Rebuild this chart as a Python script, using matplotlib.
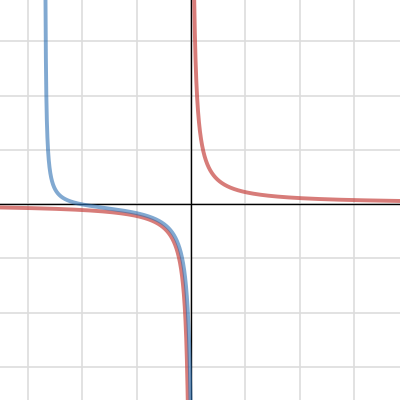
import numpy as np
import matplotlib.pyplot as plt

# curve parameters
red_k = 0.22
blue_k = 0.22
blue_shift = 0.05
blue_pole = -2.7
blue_b = 0.07
x_range = (-3.52, 3.85)
y_range = (-3.61, 3.76)

fig = plt.figure(figsize=(4, 4), dpi=100)
ax = fig.add_axes([0, 0, 1, 1])
ax.set_xlim(*x_range)
ax.set_ylim(*y_range)
for v in range(-3, 4):
    ax.axvline(v, color="#dddddd", lw=1.2, zorder=0)
    ax.axhline(v, color="#dddddd", lw=1.2, zorder=0)
ax.axvline(0, color="black", lw=1, zorder=1)
ax.axhline(0, color="black", lw=1, zorder=1)

xl = np.linspace(x_range[0], -1e-4, 4000)
xr = np.linspace(1e-4, x_range[1], 4000)
for xs in (xl, xr):
    ax.plot(xs, red_k / xs, color="#c74440", alpha=0.7, lw=2.8, zorder=2)

xb = np.linspace(blue_pole + 1e-4, blue_shift - 1e-4, 6000)
yb = blue_k / (xb - blue_shift) + blue_b / (xb - blue_pole)
ax.plot(xb, yb, color="#2d70b3", alpha=0.6, lw=2.8, zorder=3)

ax.set_xticks([])
ax.set_yticks([])
for s in ax.spines.values():
    s.set_visible(False)
fig.savefig("out.png", dpi=100)
